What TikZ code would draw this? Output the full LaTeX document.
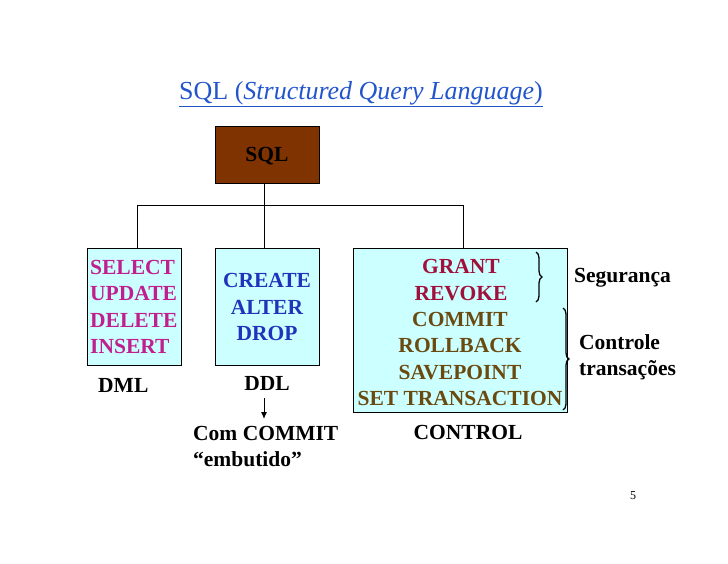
\documentclass[tikz,border=0pt]{standalone}
\usepackage{fontspec}
\setmainfont{Liberation Serif}
\usetikzlibrary{decorations.pathreplacing,arrows.meta}
\definecolor{bx}{HTML}{CCFFFF}
\definecolor{sqlc}{HTML}{7F3300}
\definecolor{dml}{HTML}{C0208F}
\definecolor{ddl}{HTML}{2233BB}
\definecolor{sec}{HTML}{A0103A}
\definecolor{trn}{HTML}{6B4A10}
\definecolor{ttl}{HTML}{2255CC}
\begin{document}
\begin{tikzpicture}[x=1pt,y=-1pt,
  box/.style={draw=black,fill=bx,line width=0.8pt},
  lbl/.style={font=\fontsize{21.5}{26.5}\selectfont\bfseries,align=center,inner sep=0pt},
  brc/.style={decorate,decoration={brace,amplitude=6pt},line width=1.3pt}]
\useasboundingbox (0,0) rectangle (728,563);
\node[inner sep=0pt,text=ttl,font=\fontsize{26}{30}\selectfont] (title) at (361,94) {\underline{SQL (\textit{Structured Query Language})}};
\draw[fill=sqlc,line width=0.8pt] (215,126) rectangle (319,183);
\node[lbl] (sql) at (267,156) {SQL};
\coordinate (sb) at (264,183);
\coordinate (hj) at (264,205);
\coordinate (hl) at (137,205);
\coordinate (hr) at (463,205);
\coordinate (lb) at (137,248);
\coordinate (mb) at (264,248);
\coordinate (rb) at (463,248);
\draw[line width=0.8pt] (sb) -- (hj) (hl) -- (hr) (hl) -- (lb) (hj) -- (mb) (hr) -- (rb);
\draw[box] (87,248) rectangle (181,365);
\draw[box] (215,248) rectangle (319,365);
\draw[box] (353,248) rectangle (567,412);
\node[lbl,text=dml,align=left,anchor=west] (dmlt) at (90,307) {SELECT\\UPDATE\\DELETE\\INSERT};
\node[lbl,text=ddl] (ddlt) at (267,307) {CREATE\\ALTER\\DROP};
\node[lbl,text=sec] (sect) at (461,280) {GRANT\\REVOKE};
\node[lbl,text=trn] (trnt) at (460,359) {COMMIT\\ROLLBACK\\SAVEPOINT\\SET TRANSACTION};
\node[lbl,anchor=west] (dmll) at (98,385) {DML};
\node[lbl] (ddll) at (267,383) {DDL};
\node[lbl] (ctl) at (468,432) {CONTROL};
\node[lbl,align=left,anchor=north west] (com) at (193,426) {Com COMMIT\\“embutido”};
\coordinate (ar1) at (264,398);
\coordinate (ar2) at (264,419);
\draw[-{Latex[length=7pt,width=6pt]},line width=1pt] (ar1) -- (ar2);
\coordinate (b1a) at (536,252); \coordinate (b1b) at (536,302);
\coordinate (b2a) at (563,308); \coordinate (b2b) at (563,410);
\draw[brc] (b1a) -- (b1b);
\draw[brc] (b2a) -- (b2b);
\node[lbl,anchor=west] (seg) at (574,278) {Segurança};
\node[lbl,anchor=west,align=left] (ctr) at (579,357) {Controle\\transações};
\node[font=\fontsize{12}{14}\selectfont] (pg) at (633,496) {5};
\end{tikzpicture}
\end{document}
